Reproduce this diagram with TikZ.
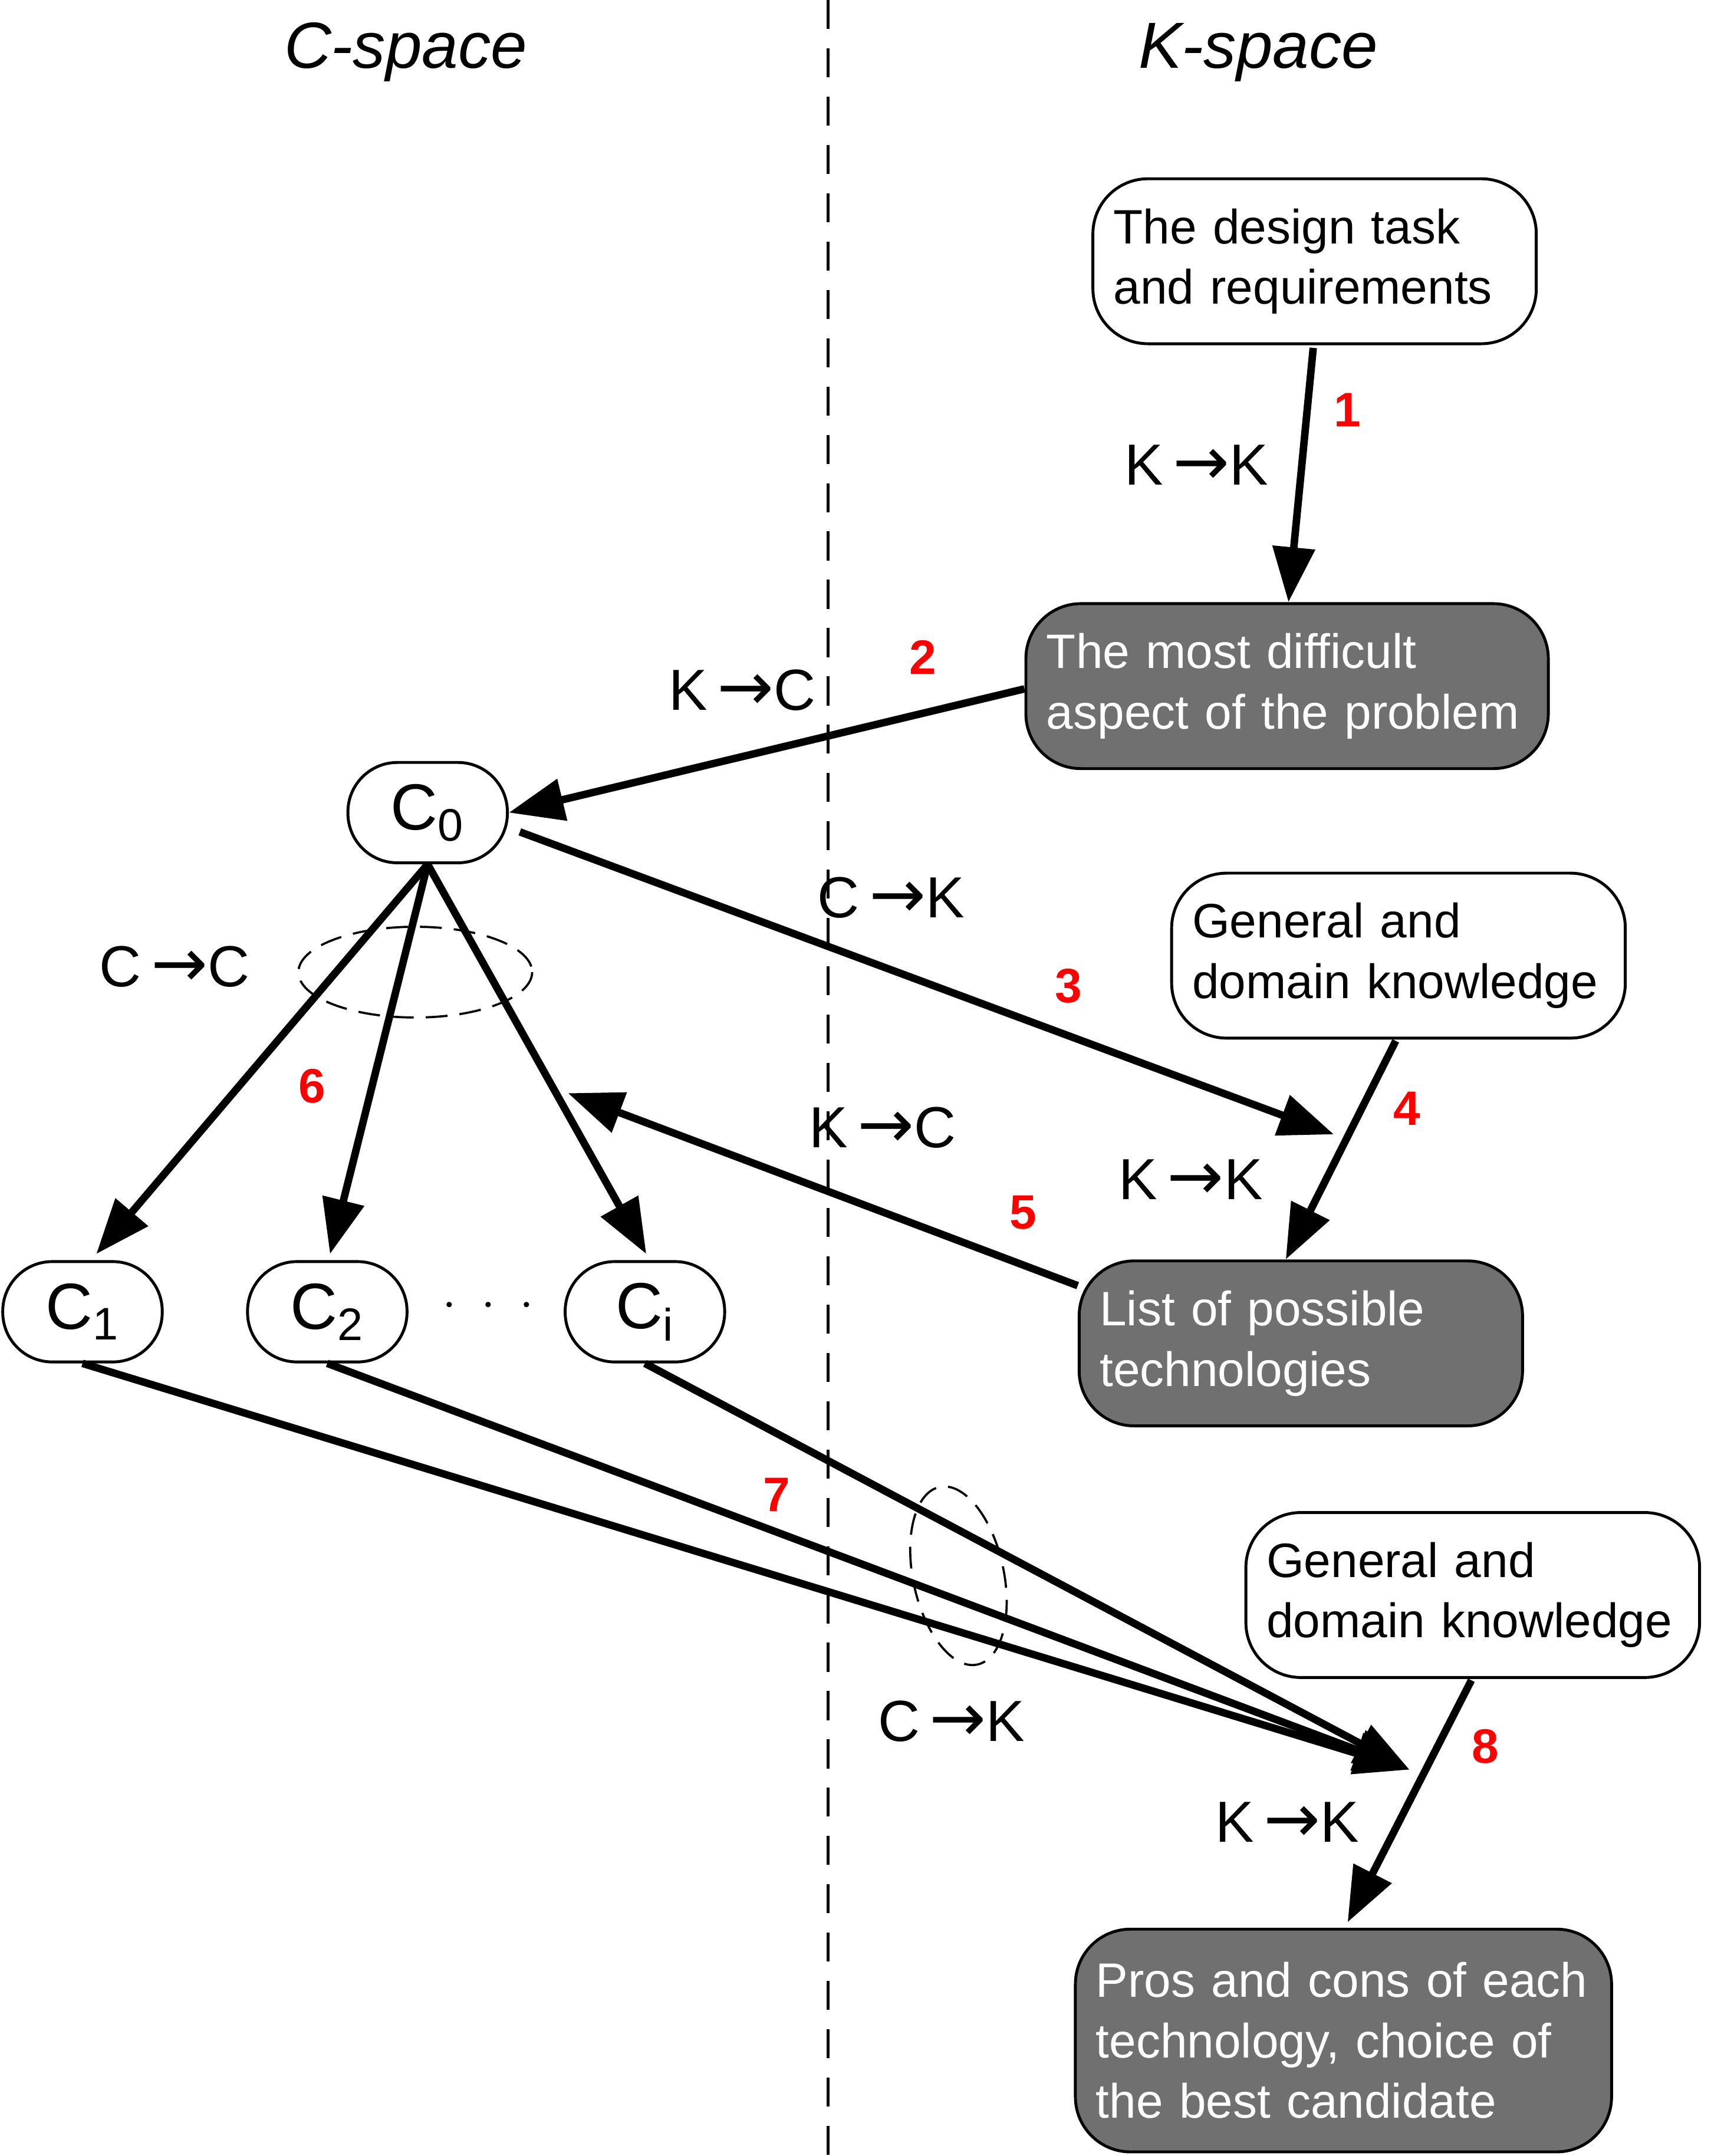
\documentclass[tikz,border=0pt]{standalone}
\usepackage{fontspec}
\setmainfont{Liberation Sans}
\newfontfamily\arrfont{DejaVu Sans}
\newcommand\toarr{\,{\arrfont\fontsize{28}{28}\selectfont →}}
\usetikzlibrary{arrows.meta}
\begin{document}
\begin{tikzpicture}[x=0.02cm, y=-0.02cm,
		every node/.style={font=\fontsize{20}{25}\selectfont},
		kbox/.style={draw, line width=1.2pt, rounded corners=0.8cm, align=left, minimum height=2.4cm, text width=#1, inner xsep=0.3cm},
		gbox/.style={kbox=#1, fill=black!56, text=white},
		cnode/.style={draw, line width=1.2pt, rounded corners=0.72cm, minimum width=2.32cm, minimum height=1.46cm, font=\fontsize{27}{30}\selectfont},
		flow/.style={line width=3.1pt, -{Triangle[length=0.8cm,width=0.6cm]}},
		lab/.style={font=\fontsize{24}{28}\selectfont},
		num/.style={text=red, font=\fontsize{20}{24}\selectfont\bfseries},
		space/.style={font=\fontsize{27}{30}\selectfont\itshape},
		]
		\useasboundingbox (0,0) rectangle (1244,1568);
		% spaces
		\node[space] (cs) at (295,38) {C-space};
		\node[space] (ks) at (915,38) {K-space};
		\draw[dashed, line width=1.2pt, dash pattern=on 12pt off 8pt] (602,0) coordinate (top) -- (602,1568) coordinate (bot);
		% K-space boxes
		\node[kbox=5.85cm] (task) at (956,190) {The design task\\and requirements};
		\node[gbox=7.0cm] (hard) at (936,499) {The most difficult\\aspect of the problem};
		\node[kbox=6.0cm] (know1) at (1017,695) {General and\\domain knowledge};
		\node[gbox=5.85cm] (tech) at (946,977) {List of possible\\technologies};
		\node[kbox=6.0cm] (know2) at (1071,1160) {General and\\domain knowledge};
		\node[gbox=7.2cm, minimum height=3.24cm] (best) at (977,1484) {Pros and cons of each\\technology, choice of\\the best candidate};
		% C-space nodes
		\node[cnode] (c0) at (311,591) {C\textsubscript{0}};
		\node[cnode] (c1) at (60,954) {C\textsubscript{1}};
		\node[cnode] (c2) at (238,954) {C\textsubscript{2}};
		\node[cnode] (ci) at (469,954) {C\textsubscript{i}};
		\node (dots) at (355,950) {$\cdot\ \cdot\ \cdot$};
		% free arrow ends
		\coordinate (t3) at (970,825);
		\coordinate (t5) at (413,795);
		\coordinate (t6) at (70,912);
		\coordinate (t7) at (1025,1287);
		% arrows
		\draw[flow] (955,253) -- (hard.north -| 937,0);
		\draw[flow] (hard.west) ++(0,2) -- (c0.east);
		\draw[flow] (c0.east) ++(8,14) -- (t3);
		\draw[flow] (1015,757) -- (935,916);
		\draw[flow] (tech.west) ++(0,-42) -- (t5);
		\draw[flow] (c0.south) -- (t6);
		\draw[flow] (c0.south) -- (240,912);
		\draw[flow] (c0.south) -- (470,912);
		\draw[flow] (c1.south) -- (t7);
		\draw[flow] (c2.south) -- (t7);
		\draw[flow] (ci.south) -- (t7);
		\draw[flow] (1070,1222) -- (980,1398);
		% groupings
		\draw[dashed, line width=0.9pt, dash pattern=on 9pt off 5pt] (302,707) ellipse [x radius=85, y radius=33];
		\draw[dashed, line width=0.9pt, dash pattern=on 9pt off 5pt, rotate around={12:(697,1146)}] (697,1146) ellipse [x radius=33, y radius=66];
		% labels
		\node[lab] (l1) at (870,338) {K\toarr K};
		\node[num] (n1) at (980,298) {1};
		\node[lab] (l2) at (540,502) {K\toarr C};
		\node[num] (n2) at (671,478) {2};
		\node[lab] (l3) at (648,653) {C\toarr K};
		\node[num] (n3) at (777,717) {3};
		\node[lab] (l4) at (866,858) {K\toarr K};
		\node[num] (n4) at (1023,806) {4};
		\node[lab] (l5) at (642,820) {K\toarr C};
		\node[num] (n5) at (744,882) {5};
		\node[lab] (l6) at (127,703) {C\toarr C};
		\node[num] (n6) at (227,790) {6};
		\node[num] (n7) at (565,1087) {7};
		\node[lab] (l7) at (692,1252) {C\toarr K};
		\node[lab] (l8) at (936,1325) {K\toarr K};
		\node[num] (n8) at (1080,1270) {8};
	\end{tikzpicture}
\end{document}
